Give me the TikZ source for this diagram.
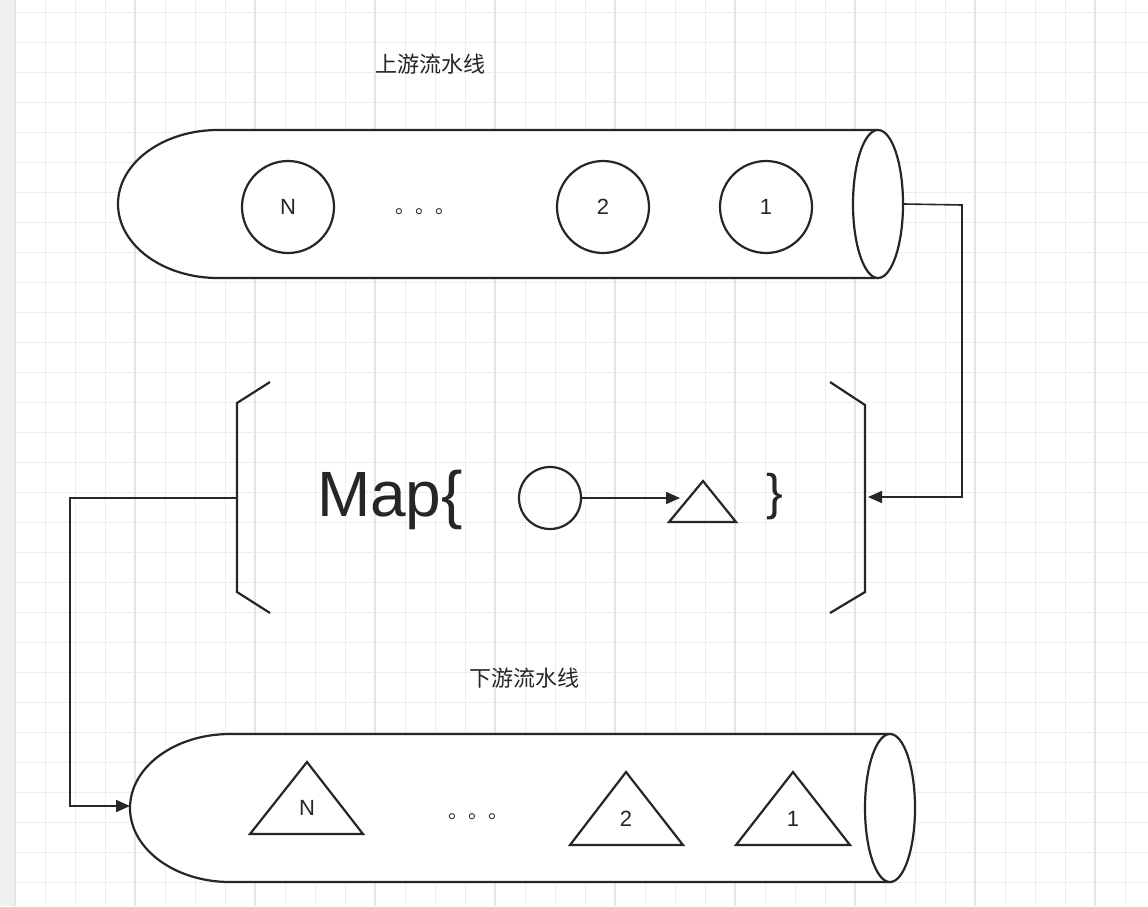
\documentclass[tikz,border=0pt]{standalone}
\usepackage{fontspec}
\setmainfont{Liberation Sans}
\newfontfamily\cjk{Noto Sans CJK SC}
\usetikzlibrary{arrows.meta,shapes.geometric}
\begin{document}
\begin{tikzpicture}[x=1pt,y=-1pt,
  ln/.style={line width=2.2pt,draw=black!85},
  arr/.style={line width=1.6pt,draw=black!85,-{Triangle[length=14pt,width=12pt]}},
  lbl/.style={font=\fontsize{22}{24}\selectfont,text=black!85},
  dts/.style={font=\cjk\fontsize{20}{24}\selectfont,text=black!85},
  ttl/.style={font=\cjk\fontsize{22}{24}\selectfont,text=black!85}]
\useasboundingbox (0,0) rectangle (1148,906);
\fill[white] (0,0) rectangle (1148,906);
\fill[black!6] (0,0) rectangle (15,906);
\foreach \i in {0,...,38} {\draw[black!7,line width=1pt] (15+\i*30,0) -- (15+\i*30,906);}
\foreach \i in {0,...,30} {\draw[black!7,line width=1pt] (15,12+\i*30) -- (1148,12+\i*30);}
\foreach \i in {0,...,9} {\draw[black!10,line width=1.2pt] (15+\i*120,0) -- (15+\i*120,906);}
% upper pipe
\draw[ln,fill=white] (878,130) -- (218,130) arc[start angle=270,end angle=90,x radius=100,y radius=74] -- (878,278);
\node[ln,draw,ellipse,minimum width=50,minimum height=148,inner sep=0,fill=white] (ue) at (878,204) {};
\node[ln,draw,circle,minimum size=92,lbl] (u1) at (288,207) {N};
\node[dts] (ud) at (425,212) {。。。};
\node[ln,draw,circle,minimum size=92,lbl] (u2) at (603,207) {2};
\node[ln,draw,circle,minimum size=92,lbl] (u3) at (766,207) {1};
\node[ttl] (t1) at (430,64) {上游流水线};
% brackets
\draw[ln] (270,382) -- (237,403) -- (237,592) -- (270,613);
\draw[ln] (830,382) -- (865,405) -- (865,592) -- (830,613);
\coordinate (bl) at (237,498);
\coordinate (br) at (868,497);
\node[font=\fontsize{64}{70}\selectfont,text=black!85] (map) at (390,500) {Map\{};
\node[ln,draw,circle,minimum size=62,inner sep=0] (mc) at (550,498) {};
\coordinate (mt) at (703,498);
\draw[ln] (669,522) -- (736,522) -- (703,481) -- cycle;
\node[font=\fontsize{50}{56}\selectfont,text=black!85] (cb) at (775,497) {\}};
\draw[arr] (mc) -- (680,498);
% connectors
\draw[arr] (ue.east) -- (962,205) -- (962,497) -- (br);
% lower pipe
\draw[ln,fill=white] (890,734) -- (230,734) arc[start angle=270,end angle=90,x radius=100,y radius=74] -- (890,882);
\node[ln,draw,ellipse,minimum width=50,minimum height=148,inner sep=0,fill=white] (le) at (890,808) {};
\coordinate (lp) at (130,806);
\draw[arr] (bl) -- (70,498) -- (70,806) -- (lp);
\draw[ln] (250,834) -- (363,834) -- (307,762) -- cycle;
\node[lbl] (l1) at (307,808) {N};
\draw[ln] (570,845) -- (683,845) -- (626,772) -- cycle;
\node[lbl] (l2) at (626,819) {2};
\draw[ln] (736,845) -- (850,845) -- (793,772) -- cycle;
\node[lbl] (l3) at (793,819) {1};
\node[dts] (ld) at (478,817) {。。。};
\node[ttl] (t2) at (524,678) {下游流水线};
\end{tikzpicture}
\end{document}
